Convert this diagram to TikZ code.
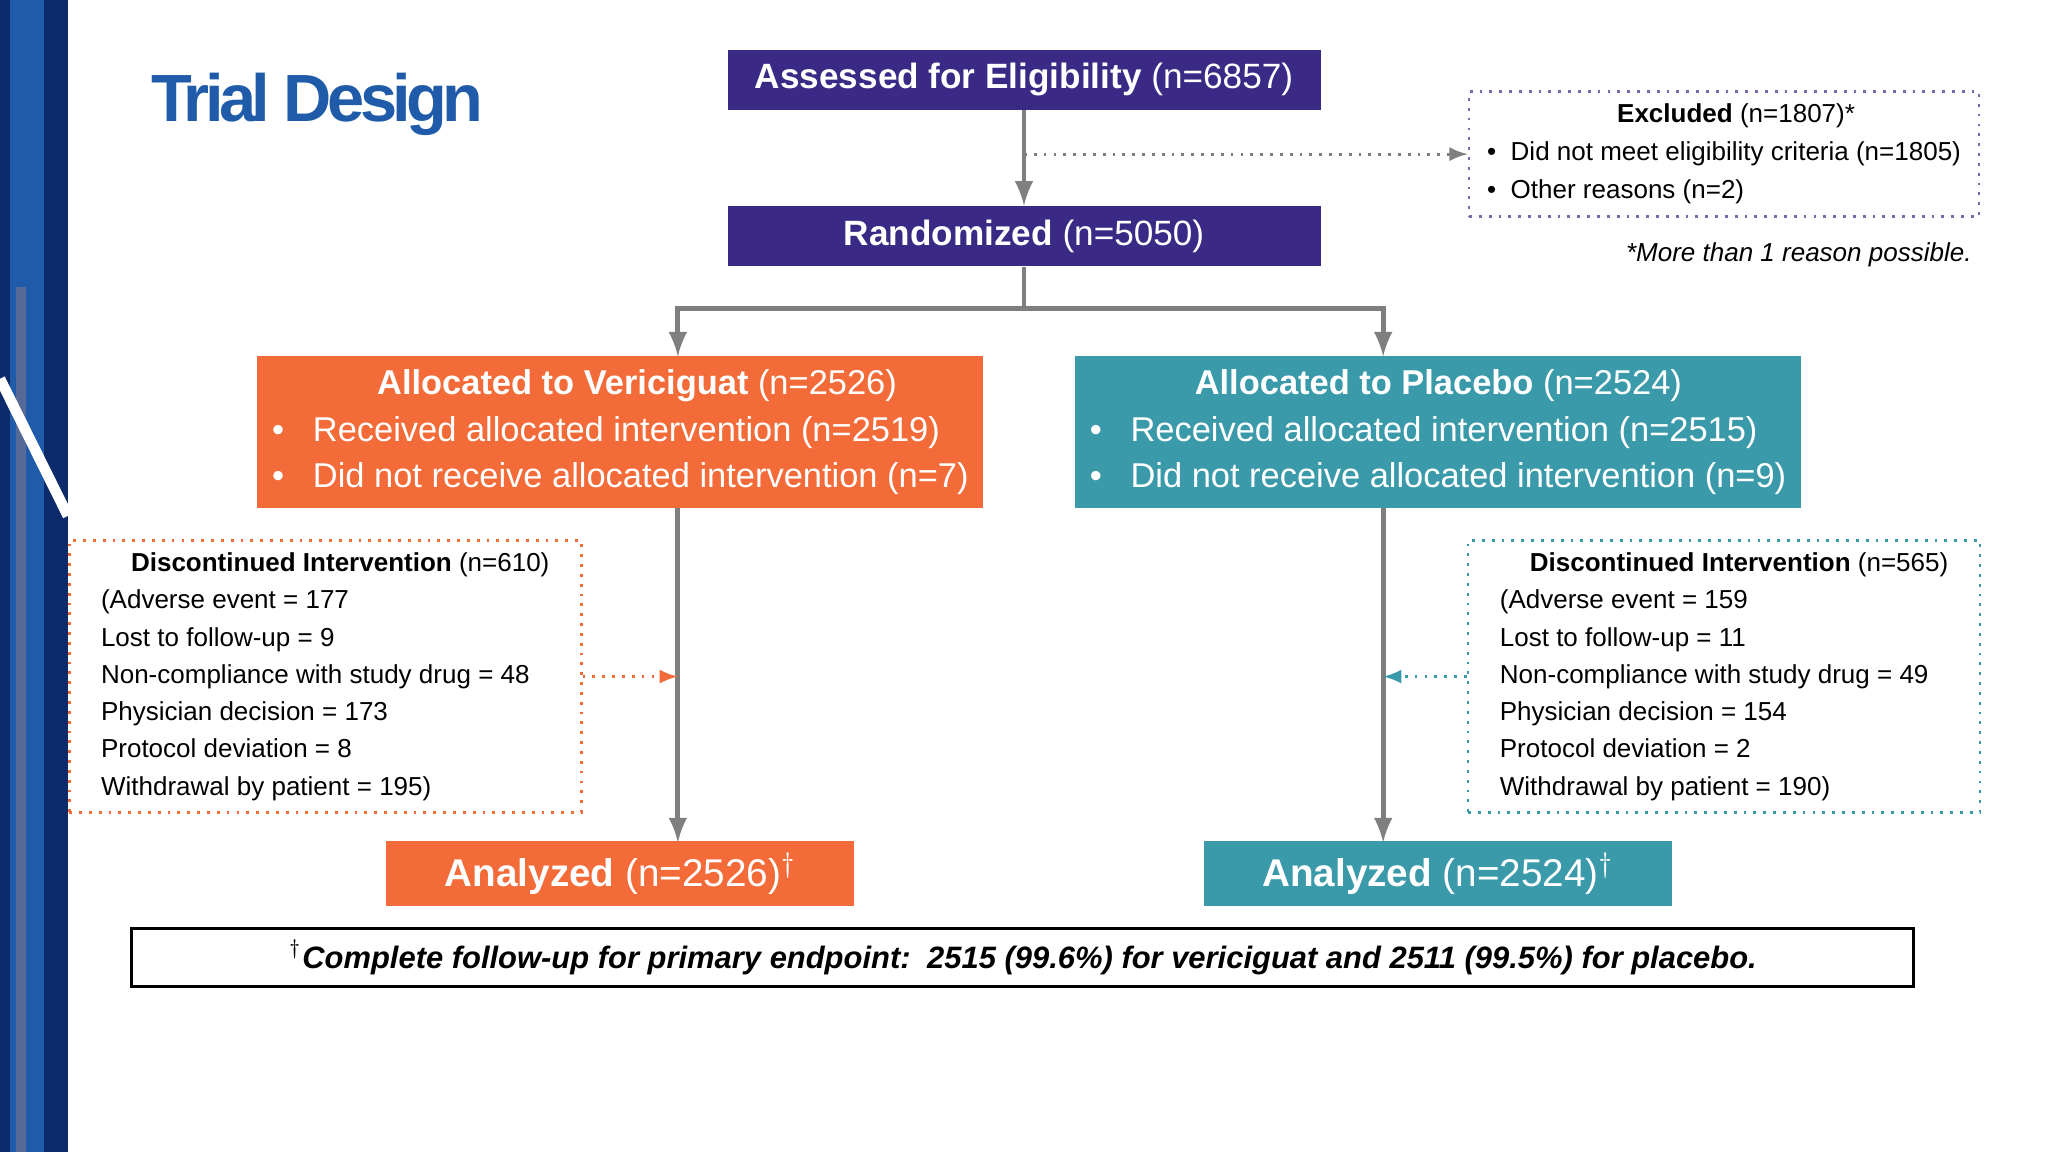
\documentclass[tikz,border=0pt]{standalone}
\usepackage{fontspec}
\setmainfont{Liberation Sans}
\usetikzlibrary{positioning}
\definecolor{navy}{HTML}{3B2A85}
\definecolor{vorange}{HTML}{F26B38}
\definecolor{pteal}{HTML}{3A9AAA}
\definecolor{titleblue}{HTML}{1F5BA8}
\definecolor{strip}{HTML}{0D2A6B}
\definecolor{flow}{HTML}{7F7F7F}
\begin{document}
\begin{tikzpicture}[x=0.013061cm,y=-0.013061cm,
		headbox/.style={fill=navy,text=white,minimum width=5.93cm,minimum height=0.6cm,font=\fontsize{10}{12}\selectfont},
		armbox/.style={text=white,minimum width=7.26cm,minimum height=1.52cm,align=left,inner sep=3pt,font=\fontsize{9.8}{13.2}\selectfont},
		anabox/.style={text=white,minimum width=4.68cm,minimum height=0.63cm,font=\fontsize{11}{13}\selectfont},
		notebox/.style={dotted,thick,minimum width=5.12cm,minimum height=2.72cm,align=left,font=\fontsize{7.4}{10.6}\selectfont},
		flowline/.style={flow,line width=1.4pt},
		flowarrow/.style={flowline,-latex}
		]
		\useasboundingbox (0,0) rectangle (1568,882);
		% left decoration
		\fill[strip] (0,0) rectangle (52,882);
		\fill[titleblue] (8,0) rectangle (34,882);
		\fill[strip!70] (12,220) rectangle (20,882);
		\draw[white,line width=3pt] (0,290) -- (52,395);
		\node[text=titleblue,font=\fontsize{19}{22}\selectfont\bfseries] (title) at (243,80) {\addfontfeature{LetterSpace=-7}Trial Design};
		% boxes
		\node[headbox] (assess) at (784,61) {\textbf{Assessed for Eligibility} (n=6857)};
		\node[headbox] (rand) at (784,181) {\textbf{Randomized} (n=5050)};
		\node[draw=navy!70,dotted,thick,minimum width=5.1cm,minimum height=1.25cm,align=left,font=\fontsize{7.4}{10.8}\selectfont] (excl) at (1320,118)
			{\hspace*{1.3cm}\textbf{Excluded} (n=1807)*\\ •\; Did not meet eligibility criteria (n=1805)\\ •\; Other reasons (n=2)};
		\node[anchor=north east,font=\fontsize{7.4}{10}\selectfont\itshape] (morenote) at (1519,176) {*More than 1 reason possible.};
		\node[armbox,fill=vorange] (veri) at (475,331)
			{\hspace*{1.05cm}\textbf{Allocated to Vericiguat} (n=2526)\\ •\;\; Received allocated intervention (n=2519)\\ •\;\; Did not receive allocated intervention (n=7)};
		\node[armbox,fill=pteal] (plac) at (1101,331)
			{\hspace*{1.05cm}\textbf{Allocated to Placebo} (n=2524)\\ •\;\; Received allocated intervention (n=2515)\\ •\;\; Did not receive allocated intervention (n=9)};
		\node[notebox,draw=vorange] (discv) at (249,518)
			{\hspace*{0.3cm}\textbf{Discontinued Intervention} (n=610)\\ (Adverse event = 177\\ Lost to follow-up = 9\\ Non-compliance with study drug = 48\\ Physician decision = 173\\ Protocol deviation = 8\\ Withdrawal by patient = 195)};
		\node[notebox,draw=pteal] (discp) at (1320,518)
			{\hspace*{0.3cm}\textbf{Discontinued Intervention} (n=565)\\ (Adverse event = 159\\ Lost to follow-up = 11\\ Non-compliance with study drug = 49\\ Physician decision = 154\\ Protocol deviation = 2\\ Withdrawal by patient = 190)};
		\node[anabox,fill=vorange] (anav) at (475,669) {\textbf{Analyzed} (n=2526)$^\dagger$};
		\node[anabox,fill=pteal] (anap) at (1101,669) {\textbf{Analyzed} (n=2524)$^\dagger$};
		\node[draw,thick,minimum width=17.82cm,minimum height=0.5cm,font=\fontsize{8.8}{11}\selectfont\bfseries\itshape] (foot) at (783,733)
			{$^\dagger$Complete follow-up for primary endpoint:\, 2515 (99.6\%) for vericiguat and 2511 (99.5\%) for placebo.};
		% connectors
		\coordinate (exs) at (784,118);
		\coordinate (br) at (784,236);
		\coordinate (brv) at (519,236);
		\coordinate (brp) at (1059,236);
		\coordinate (vtop) at (519,273);
		\coordinate (ptop) at (1059,273);
		\coordinate (vbot) at (519,389);
		\coordinate (pbot) at (1059,389);
		\coordinate (vend) at (519,645);
		\coordinate (pend) at (1059,645);
		\coordinate (vmid) at (519,518);
		\coordinate (pmid) at (1059,518);
		\draw[flowarrow] (assess) -- (rand);
		\draw[flow,dotted,thick,-latex] (exs) -- (excl.west);
		\draw[flowline] (rand.south) -- (br);
		\draw[flowarrow] (br) -- (brv) -- (vtop);
		\draw[flowarrow] (br) -- (brp) -- (ptop);
		\draw[flowarrow] (vbot) -- (vend);
		\draw[flowarrow] (pbot) -- (pend);
		\draw[vorange,dotted,thick,-latex] (discv.east) -- (vmid);
		\draw[pteal,dotted,thick,-latex] (discp.west) -- (pmid);
	\end{tikzpicture}
\end{document}
